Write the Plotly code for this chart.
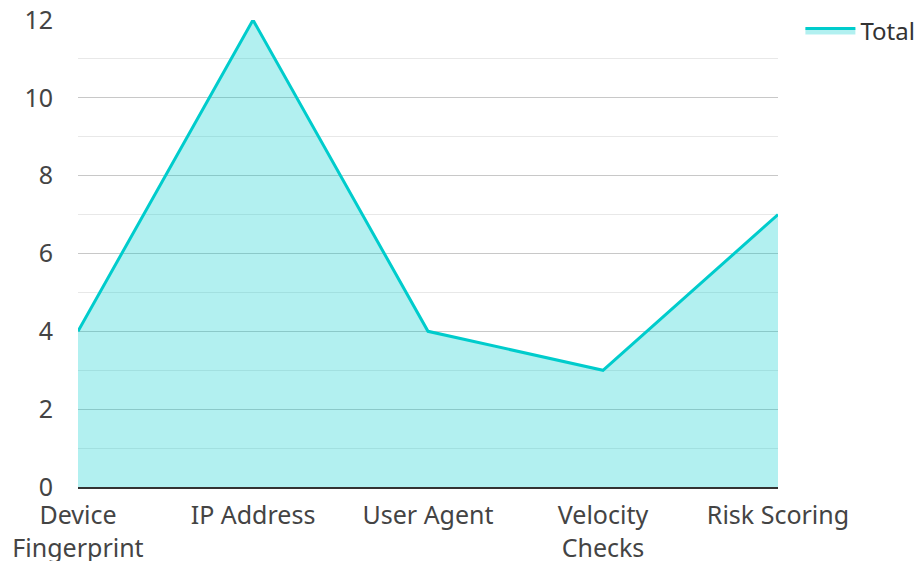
import plotly.graph_objects as go

categories = ["Device<br>Fingerprint", "IP Address", "User Agent", "Velocity<br>Checks", "Risk Scoring"]
totals = [4, 12, 4, 3, 7]
y_ticks = [0, 2, 4, 6, 8, 10, 12]

fig = go.Figure()
fig.add_trace(go.Scatter(
    x=categories, y=totals, name="Total", mode="lines",
    line=dict(color="#00cccc", width=3),
    fill="tozeroy", fillcolor="rgba(0,204,204,0.3)",
))

font = dict(family="Noto Sans", size=25, color="#444444")
fig.update_layout(
    width=920, height=561,
    margin=dict(l=78, r=142, t=20, b=74, autoexpand=False),
    paper_bgcolor="white", plot_bgcolor="white",
    font=font,
    showlegend=True,
    legend=dict(x=1.032, xanchor="left", y=1.025, yanchor="top",
                itemwidth=50,
                font=dict(family="Noto Sans", size=24, color="#333333"),
                bgcolor="rgba(0,0,0,0)"),
    xaxis=dict(range=[0, 4], showgrid=False, showline=True, linecolor="#333333",
               linewidth=2, ticks="", tickfont=font, zeroline=False,
               automargin=False, ticklabelstandoff=5),
    yaxis=dict(range=[0, 12], tickvals=y_ticks, showgrid=True, gridcolor="#c8c8c8",
               gridwidth=1, zeroline=False, showline=False, ticks="",
               ticklabelstandoff=24, tickfont=font, automargin=False,
               minor=dict(dtick=1, showgrid=True, gridcolor="#e8e8e8", gridwidth=1)),
)
fig.write_html("out.html", config={"displayModeBar": False},
               post_script="document.body.style.margin='0';")
